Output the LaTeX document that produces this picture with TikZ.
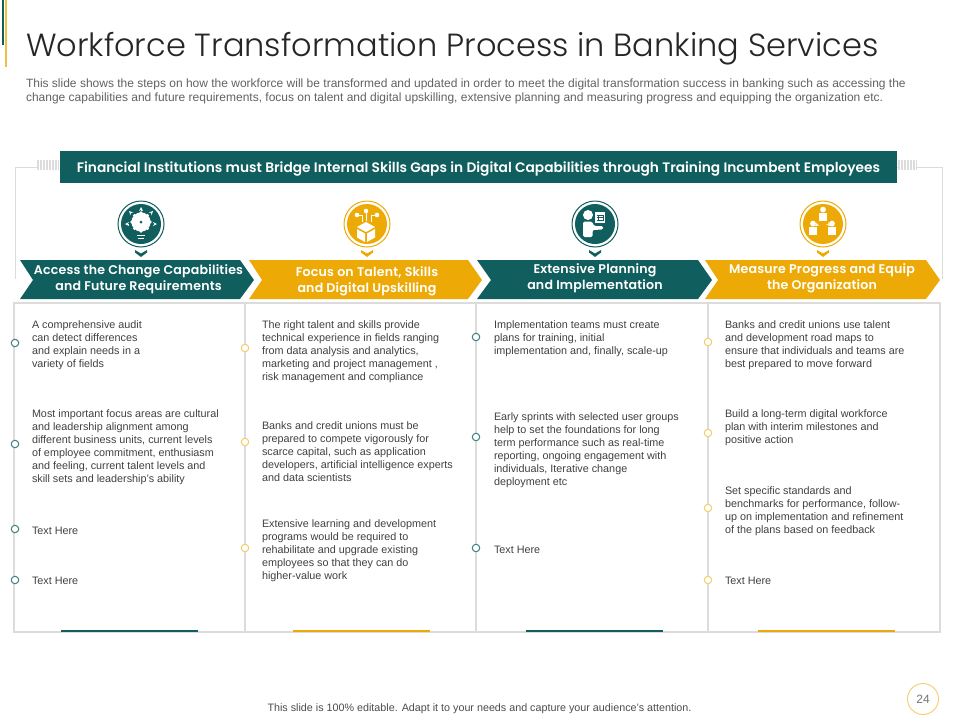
\documentclass[tikz,border=0pt]{standalone}
\usepackage{fontspec}
\setmainfont{Liberation Sans}
\newfontfamily\titlefont{Poppins Light}
\newfontfamily\headfont[LetterSpace=1.5]{Poppins SemiBold}
\newfontfamily\bannerfont{Poppins SemiBold}
\usetikzlibrary{shapes,arrows,positioning}
\definecolor{tealc}{HTML}{115E5E}
\definecolor{goldc}{HTML}{EDAA06}
\definecolor{framec}{HTML}{DCDCDC}
\definecolor{bodyc}{HTML}{404040}
\tikzset{
  every node/.style={inner sep=0pt,outer sep=0pt},
  bodytext/.style={anchor=west,align=left,text=bodyc,font=\fontsize{10.8}{13}\selectfont},
  steptext/.style={align=center,text=white,font=\headfont\fontsize{12.6}{16}\selectfont},
  dotc/.style={circle,draw=#1,fill=white,line width=1pt,minimum size=7.5pt},
  disc/.style={circle,fill=#1,minimum size=40pt},
  ringc/.style={circle,draw=#1,line width=1pt,minimum size=46pt},
  gridline/.style={framec,line width=1.3pt},
  accent/.style={#1,line width=2.2pt}
}
\newcommand{\chev}[2]{%
  \fill[#2] (#1-6,250) -- (#1,253.5) -- (#1+6,250) -- (#1+6,252.5) -- (#1,257) -- (#1-6,252.5) -- cycle;
}
\newcommand{\persona}[2]{%
  \fill[white] (#1,#2-3.4) circle (2.9);
  \fill[white] (#1-4.4,#2) rectangle (#1+4.4,#2+8);
}
\begin{document}
\begin{tikzpicture}[x=1pt,y=-1pt]
\useasboundingbox (0,0) rectangle (960,720);

\fill[tealc] (2,0) rectangle (4,45);
\fill[goldc!75!white] (5,0) rectangle (6.5,67);

\node[anchor=base west,text=black!85,font=\titlefont\fontsize{32}{38}\selectfont] (title) at (26,56) {Workforce Transformation Process in Banking Services};
\node[anchor=north west,align=left,text=black!62,font=\fontsize{12}{14}\selectfont] (intro) at (26,78.5) {This slide shows the steps on how the workforce will be transformed and updated in order to meet the digital transformation success in banking such as accessing the\\change capabilities and future requirements, focus on talent and digital upskilling, extensive planning and measuring progress and equipping the organization etc.};

\coordinate (fl) at (15,279);
\coordinate (fr) at (942,279);
\node[fill=tealc,text=white,minimum width=837pt,minimum height=32pt,text height=13pt,text depth=3pt,font=\bannerfont\fontsize{13.75}{18}\selectfont] (banner) at (478.5,167) {Financial Institutions must Bridge Internal Skills Gaps in Digital Capabilities through Training Incumbent Employees};
\draw[gridline,line width=1pt] (banner.west) -- (15,167) -- (fl);
\draw[gridline,line width=1pt] (banner.east) -- (942,167) -- (fr);
\fill[white] (37,160) rectangle (59.5,170);
\fill[white] (897.5,160) rectangle (916,170);
\foreach \i in {37,38.5,...,59}{\draw[framec,line width=.5pt] (\i,160) -- (\i,170);}
\foreach \i in {898,899.5,...,916}{\draw[framec,line width=.5pt] (\i,160) -- (\i,170);}

\fill[tealc] (20,260) -- (240,260) -- (254,280) -- (240,299) -- (20,299) -- (33,280) -- cycle;
\fill[goldc] (249,260) -- (468,260) -- (482,280) -- (468,299) -- (249,299) -- (262,280) -- cycle;
\fill[tealc] (477,260) -- (698,260) -- (712,280) -- (698,299) -- (477,299) -- (491,280) -- cycle;
\fill[goldc] (705,260) -- (926,260) -- (940,280) -- (926,299) -- (705,299) -- (718,280) -- cycle;

\node[steptext] (stepa) at (138.5,279) {Access the Change Capabilities\\and Future Requirements};
\node[steptext] (stepb) at (367,281) {Focus on Talent, Skills\\and Digital Upskilling};
\node[steptext] (stepc) at (595,278) {Extensive Planning\\and Implementation};
\node[steptext] (stepd) at (822,278) {Measure Progress and Equip\\the Organization};

\foreach \n/\cx/\c in {a/141/tealc,b/367/goldc,c/595/tealc,d/823/goldc}{
  \node[ringc=\c] (ring\n) at (\cx,224) {};
  \node[disc=\c] (icon\n) at (\cx,224) {};
  \chev{\cx}{\c}
}

\fill[white] (141,222) circle (9.6);
\foreach \a in {0,45,...,315}{\fill[white] (141,222) ++(\a:9.2) circle (1.7);}
\fill[tealc] (141,222) circle (1.5);
\draw[white,line width=1pt] (137,235) -- (145,235) (138,238) -- (144,238);
\draw[white,line width=.8pt,-stealth] (141,210) -- (141,207);
\draw[white,line width=.8pt,-stealth] (128,224) -- (125,224);
\draw[white,line width=.8pt,-stealth] (154,224) -- (157,224);
\draw[white,line width=.8pt,-stealth] (131,213) -- (129,211);
\draw[white,line width=.8pt,-stealth] (151,213) -- (153,211);

\draw[white,line width=.8pt] (357,215) -- (362,215) -- (362,222) (366,211) -- (366,221) (377,215) -- (371,215) -- (371,222);
\fill[white] (357,215) circle (2.3) (366,211) circle (2.3) (377,215) circle (2.3);
\fill[white] (366,222) -- (375,227) -- (366,232) -- (357,227) -- cycle;
\fill[white] (357,229) -- (365,233.5) -- (365,242) -- (357,237.5) -- cycle;
\fill[white] (375,229) -- (367,233.5) -- (367,242) -- (375,237.5) -- cycle;

\fill[white] (588,215) circle (5);
\fill[white,rounded corners=1.5pt] (583,221.5) -- (592,221.5) -- (594,226) -- (603,226) -- (603,229.5) -- (592.5,230) -- (592.5,237) -- (583,237) -- cycle;
\fill[white] (595,212) rectangle (605,222.5);
\fill[tealc] (596.5,215) rectangle (603.5,221);
\foreach \gx in {597,599.2,601.4}{\foreach \gy in {215.8,218.4}{\fill[white] (\gx,\gy) rectangle +(1.4,1.4);}}

\persona{823}{213}
\persona{813}{227}
\persona{832}{227}
\draw[white,line width=.7pt,-stealth] (818,224) -- (815,226);
\draw[white,line width=.7pt,-stealth] (828,224) -- (830,226);

\draw[gridline] (14,303) rectangle (940,632);
\foreach \i in {245,476,708}{\draw[gridline] (\i,303) -- (\i,632);}
\foreach \xa/\xb/\c in {61/198/tealc,293/430/goldc,526/663/tealc,758/895/goldc}{\draw[accent=\c] (\xa,631) -- (\xb,631);}

\foreach \i/\y in {a/343,b/444,c/529,d/580}{\node[dotc=tealc!80!white] (dota\i) at (15,\y) {};}
\foreach \i/\y in {a/348,b/442,c/548}{\node[dotc=goldc!60!white] (dotb\i) at (245,\y) {};}
\foreach \i/\y in {a/337,b/437,c/548}{\node[dotc=tealc!80!white] (dotc\i) at (476,\y) {};}
\foreach \i/\y in {a/342,b/433,c/508,d/580}{\node[dotc=goldc!60!white] (dotd\i) at (708,\y) {};}

\node[bodytext] (ta) at (32,345) {A comprehensive audit\\can detect differences\\and explain needs in a\\variety of fields};
\node[bodytext] (tb) at (32,447) {Most important focus areas are cultural\\and leadership alignment among\\different business units, current levels\\of employee commitment, enthusiasm\\and feeling, current talent levels and\\skill sets and leadership's ability};
\node[bodytext] (tc) at (32,530.5) {Text Here};
\node[bodytext] (td) at (32,580.5) {Text Here};

\node[bodytext] (te) at (262,351.5) {The right talent and skills provide\\technical experience in fields ranging\\from data analysis and analytics,\\marketing and project management ,\\risk management and compliance};
\node[bodytext] (tf) at (262,451.5) {Banks and credit unions must be\\prepared to compete vigorously for\\scarce capital, such as application\\developers, artificial intelligence experts\\and data scientists};
\node[bodytext] (tg) at (262,550.5) {Extensive learning and development\\programs would be required to\\rehabilitate and upgrade existing\\employees so that they can do\\higher-value work};

\node[bodytext] (th) at (494,339) {Implementation teams must create\\plans for training, initial\\implementation and, finally, scale-up};
\node[bodytext] (ti) at (494,450.5) {Early sprints with selected user groups\\help to set the foundations for long\\term performance such as real-time\\reporting, ongoing engagement with\\individuals, Iterative change\\deployment etc};
\node[bodytext] (tj) at (494,549.5) {Text Here};

\node[bodytext] (tk) at (725,345) {Banks and credit unions use talent\\and development road maps to\\ensure that individuals and teams are\\best prepared to move forward};
\node[bodytext] (tl) at (725,428) {Build a long-term digital workforce\\plan with interim milestones and\\positive action};
\node[bodytext] (tm) at (725,511) {Set specific standards and\\benchmarks for performance, follow-\\up on implementation and refinement\\of the plans based on feedback};
\node[bodytext] (tn) at (725,580.5) {Text Here};

\node[text=black!70,font=\fontsize{10.75}{12}\selectfont] (foot) at (479.5,708.5) {This slide is 100\% editable. Adapt it to your needs and capture your audience's attention.};
\node[circle,draw=goldc!55!white,line width=1pt,minimum size=31pt,text=black!55,font=\fontsize{12}{14}\selectfont] (page) at (923,699) {24};
\end{tikzpicture}
\end{document}
